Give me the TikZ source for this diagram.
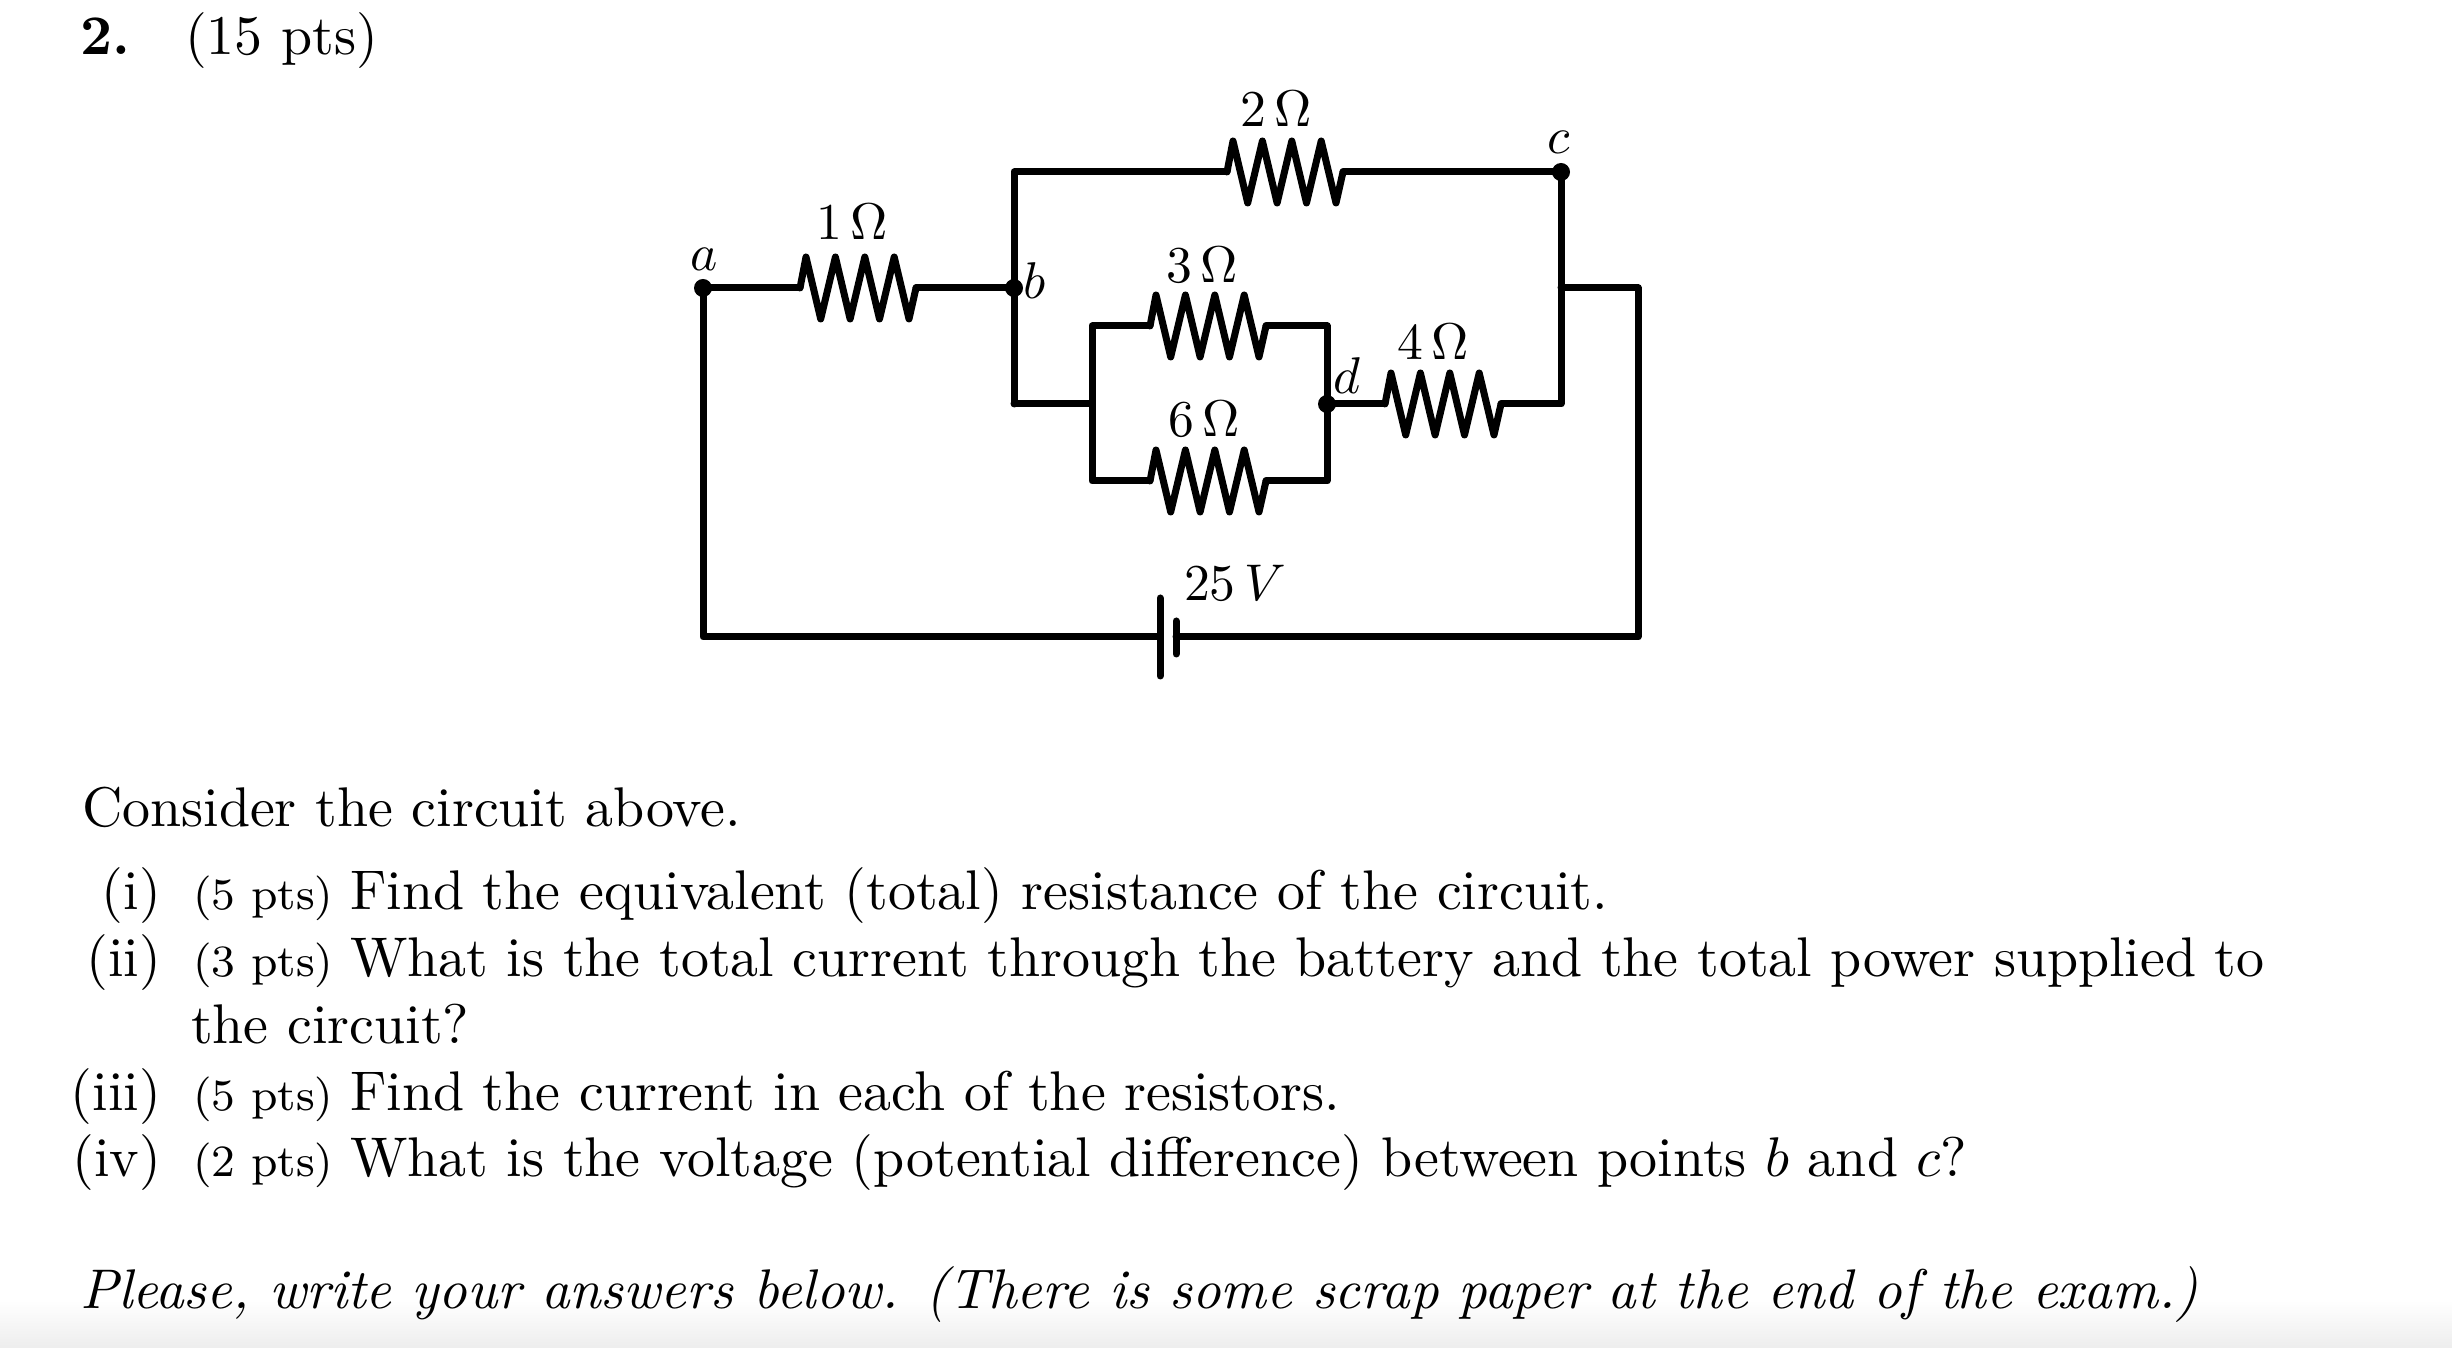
\documentclass[tikz,border=0pt]{standalone}
\usepackage{amsmath}
\newcommand{\pts}[1]{{\footnotesize (#1 pts)}}
\tikzset{
  wire/.style={line width=2.1pt, line cap=round, line join=round},
  dot/.style={circle, fill=black, inner sep=0pt, minimum size=5.4pt},
  txt/.style={anchor=base west, inner sep=0pt, scale=1.677},
  num/.style={anchor=base east, inner sep=0pt, scale=1.677},
  val/.style={anchor=base, inner sep=0pt, scale=1.55},
  pics/res/.style={code={
    \draw[wire]
      (0,0) -- (6,-31) -- (20.7,31) -- (35.4,-31) -- (50.1,31) -- (64.8,-31)
      -- (79.5,31) -- (94.2,-31) -- (109,31) -- (116,0);
  }}
}
\begin{document}
\begin{tikzpicture}[x=0.3pt,y=-0.3pt]
  \useasboundingbox (0,0) rectangle (2452,1348);
  \shade[top color=white, bottom color=black!7, draw=none] (0,1300) rectangle (2452,1348);

  % junctions
  \node[dot] (a) at (703,288) {};
  \node[dot] (b) at (1014,288) {};
  \node[dot] (c) at (1561,172) {};
  \node[dot] (d) at (1327,404) {};
  \coordinate (tl) at (1014,172);
  \coordinate (bl) at (1014,404);
  \coordinate (bx) at (1092,404);
  \coordinate (bxt) at (1092,326);
  \coordinate (bxb) at (1092,481);
  \coordinate (dt) at (1327,326);
  \coordinate (db) at (1327,481);
  \coordinate (cm) at (1561,288);
  \coordinate (cb) at (1561,404);
  \coordinate (rt) at (1638,288);
  \coordinate (rb) at (1638,637);
  \coordinate (lb) at (703,637);

  % resistor ends
  \coordinate (r1l) at (800,288);   \coordinate (r1r) at (916,288);
  \coordinate (r2l) at (1227,172);  \coordinate (r2r) at (1343,172);
  \coordinate (r3l) at (1150,326);  \coordinate (r3r) at (1266,326);
  \coordinate (r6l) at (1150,481);  \coordinate (r6r) at (1266,481);
  \coordinate (r4l) at (1385,404);  \coordinate (r4r) at (1501,404);
  \pic at (r1l) {res};
  \pic at (r2l) {res};
  \pic at (r3l) {res};
  \pic at (r6l) {res};
  \pic at (r4l) {res};

  % battery plates
  \coordinate (p1) at (1160,637);
  \coordinate (p2) at (1176,637);
  \coordinate (p1t) at (1160,598);  \coordinate (p1b) at (1160,676);
  \coordinate (p2t) at (1176,621);  \coordinate (p2b) at (1176,654);
  \draw[wire] (p1t) -- (p1b);
  \draw[wire] (p2t) -- (p2b);

  % wires
  \draw[wire] (a.center) -- (r1l);
  \draw[wire] (r1r) -- (b.center);
  \draw[wire] (bl) -- (tl) -- (r2l);
  \draw[wire] (r2r) -- (c.center);
  \draw[wire] (c.center) -- (cb) -- (r4r);
  \draw[wire] (r4l) -- (d.center);
  \draw[wire] (bl) -- (bx);
  \draw[wire] (r3l) -- (bxt) -- (bxb) -- (r6l);
  \draw[wire] (r3r) -- (dt) -- (db) -- (r6r);
  \draw[wire] (cm) -- (rt) -- (rb) -- (p2);
  \draw[wire] (a.center) -- (lb) -- (p1);

  % circuit labels
  \node[val] (l1) at (852,240) {$1\,\Omega$};
  \node[val] (l2) at (1276,127) {$2\,\Omega$};
  \node[val] (l3) at (1202,283) {$3\,\Omega$};
  \node[val] (l6) at (1204,437) {$6\,\Omega$};
  \node[val] (l4) at (1433,360) {$4\,\Omega$};
  \node[val,anchor=base west] (lv) at (1183,601) {$25\,V$};
  \node[val] (la) at (704,271) {$a$};
  \node[val] (lb1) at (1035,299) {$b$};
  \node[val] (lc) at (1559,154) {$c$};
  \node[val] (ld) at (1347,394) {$d$};

  % text
  \node[txt] (t0) at (79,55) {\textbf{2.}};
  \node[txt] (t1) at (184,55) {(15 pts)};
  \node[txt] (t2) at (81,826) {Consider the circuit above.};
  \node[num] (n1) at (162,910) {(i)};
  \node[txt] (p1a) at (192,910) {\pts{5}};
  \node[txt] (q1) at (349,910) {Find the equivalent (total) resistance of the circuit.};
  \node[num] (n2) at (162,976) {(ii)};
  \node[txt] (p2a) at (192,976) {\pts{3}};
  \node[txt] (q2) at (349,976) {What is the total current through the battery and the total power supplied to};
  \node[txt] (q2b) at (190,1043) {the circuit?};
  \node[num] (n3) at (162,1110) {(iii)};
  \node[txt] (p3a) at (192,1110) {\pts{5}};
  \node[txt] (q3) at (349,1110) {Find the current in each of the resistors.};
  \node[num] (n4) at (162,1176) {(iv)};
  \node[txt] (p4a) at (192,1176) {\pts{2}};
  \node[txt] (q4) at (349,1176) {What is the voltage (potential difference) between points $b$ and $c$?};
  \node[txt] (t3) at (79,1308) {\textit{Please, write your answers below. (There is some scrap paper at the end of the exam.)}};
\end{tikzpicture}
\end{document}
